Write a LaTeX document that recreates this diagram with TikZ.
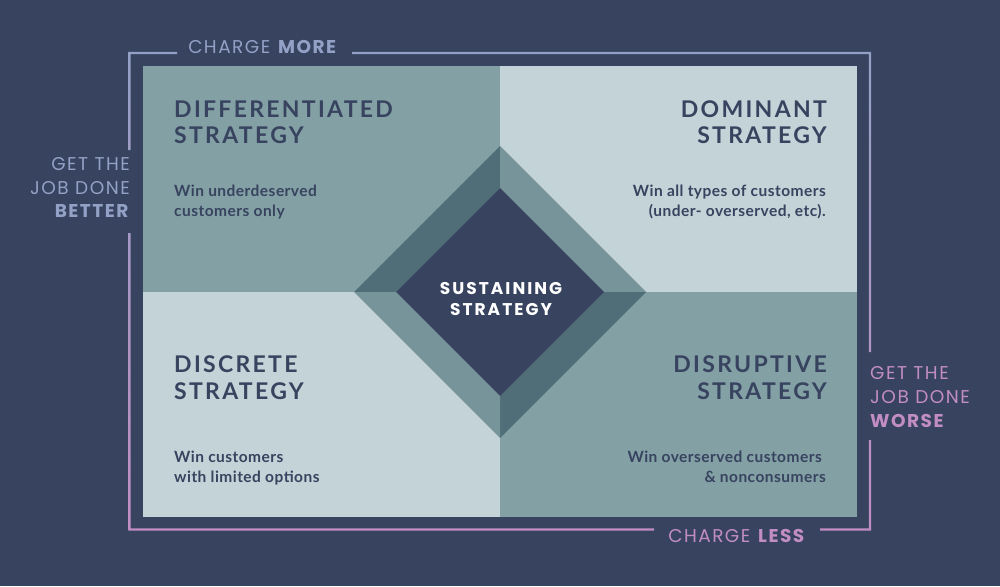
\documentclass[tikz,border=0pt]{standalone}
\usepackage{fontspec}
\setmainfont{Lato}
\newfontfamily\titlefont[LetterSpace=10]{Lato}
\newfontfamily\bodyfont[LetterSpace=3]{Lato}
\newfontfamily\labelfont[LetterSpace=8]{Poppins}
\newfontfamily\centerfont[LetterSpace=12]{Poppins}
\definecolor{bg}{HTML}{37435F}
\definecolor{quadmid}{HTML}{83A0A5}
\definecolor{quadlight}{HTML}{C3D3D7}
\definecolor{dmdark}{HTML}{4F6E77}
\definecolor{dmmid}{HTML}{76949A}
\definecolor{lav}{HTML}{94A1C6}
\definecolor{pinkish}{HTML}{C28DC3}
\tikzset{
  title/.style={font=\titlefont\bfseries\fontsize{23}{26}\selectfont, text=bg, inner sep=0pt},
  body/.style={font=\bodyfont\bfseries\fontsize{15.5}{18}\selectfont, text=bg, inner sep=0pt},
  lbl/.style={font=\labelfont\fontsize{18.5}{20}\selectfont, inner sep=0pt},
  ctr/.style={font=\centerfont\bfseries\fontsize{17}{20}\selectfont, text=white, inner sep=0pt},
}
\begin{document}
\begin{tikzpicture}[x=1pt,y=-1pt]
\useasboundingbox (0,0) rectangle (1000,586);
\fill[bg] (0,0) rectangle (1000,586);
% quadrants
\fill[quadmid] (143,66) rectangle (500,292);
\fill[quadlight] (500,66) rectangle (857,292);
\fill[quadlight] (143,292) rectangle (500,517);
\fill[quadmid] (500,292) rectangle (857,517);
% diamond
\fill[dmdark] (354,292) -- (500,146) -- (500,188) -- (396,292) -- cycle;
\fill[dmmid] (500,146) -- (646,292) -- (604,292) -- (500,188) -- cycle;
\fill[dmdark] (646,292) -- (500,438) -- (500,396) -- (604,292) -- cycle;
\fill[dmmid] (500,438) -- (354,292) -- (396,292) -- (500,396) -- cycle;
\fill[bg] (500,188) -- (604,292) -- (500,396) -- (396,292) -- cycle;
% frame with gradient
\begin{scope}
\clip (129,52) rectangle (177,54.2)
      (352,52) rectangle (871,54.2)
      (128.4,52) rectangle (130.6,150)
      (128.4,233) rectangle (130.6,530.5)
      (128.4,528.4) rectangle (654,530.5)
      (820,528.4) rectangle (871,530.5)
      (868.9,52) rectangle (871,352)
      (868.9,440) rectangle (871,530.5);
\shade[top color=lav, bottom color=pinkish, middle color=lav!50!pinkish] (120,50) rectangle (880,535);
\end{scope}
% outer labels
\node[lbl, text=lav, anchor=base] (cm) at (263,54) {CHARGE \textbf{MORE}};
\node[lbl, text=pinkish, anchor=base] (cl) at (737,542) {CHARGE \textbf{LESS}};
\node[lbl, text=lav, anchor=base east] (b1) at (130,170) {GET THE};
\node[lbl, text=lav, anchor=base east] (b2) at (130,194) {JOB DONE};
\node[lbl, text=lav, anchor=base east] (b3) at (130,217) {\textbf{BETTER}};
\node[lbl, text=pinkish, anchor=base west] (w1) at (870,379) {GET THE};
\node[lbl, text=pinkish, anchor=base west] (w2) at (870,403) {JOB DONE};
\node[lbl, text=pinkish, anchor=base west] (w3) at (870,427) {\textbf{WORSE}};
% TL
\node[title, anchor=base west] (t1a) at (174,117) {DIFFERENTIATED};
\node[title, anchor=base west] (t1b) at (174,143) {STRATEGY};
\node[body, anchor=base west] (d1a) at (174,196) {Win underdeserved};
\node[body, anchor=base west] (d1b) at (174,216) {customers only};
% TR
\node[title, anchor=base east] (t2a) at (827,117) {DOMINANT};
\node[title, anchor=base east] (t2b) at (827,143) {STRATEGY};
\node[body, anchor=base east] (d2a) at (826,196) {Win all types of customers};
\node[body, anchor=base east] (d2b) at (826,216) {(under- overserved, etc).};
% BL
\node[title, anchor=base west] (t3a) at (174,372) {DISCRETE};
\node[title, anchor=base west] (t3b) at (174,399) {STRATEGY};
\node[body, anchor=base west] (d3a) at (174,462) {Win customers};
\node[body, anchor=base west] (d3b) at (174,482) {with limited options};
% BR
\node[title, anchor=base east] (t4a) at (827,372) {DISRUPTIVE};
\node[title, anchor=base east] (t4b) at (827,399) {STRATEGY};
\node[body, anchor=base east] (d4a) at (822,462) {Win overserved customers};
\node[body, anchor=base east] (d4b) at (826,482) {\& nonconsumers};
% center
\node[ctr, anchor=base] (s1) at (501,294) {SUSTAINING};
\node[ctr, anchor=base] (s2) at (501,315) {STRATEGY};
\end{tikzpicture}
\end{document}
